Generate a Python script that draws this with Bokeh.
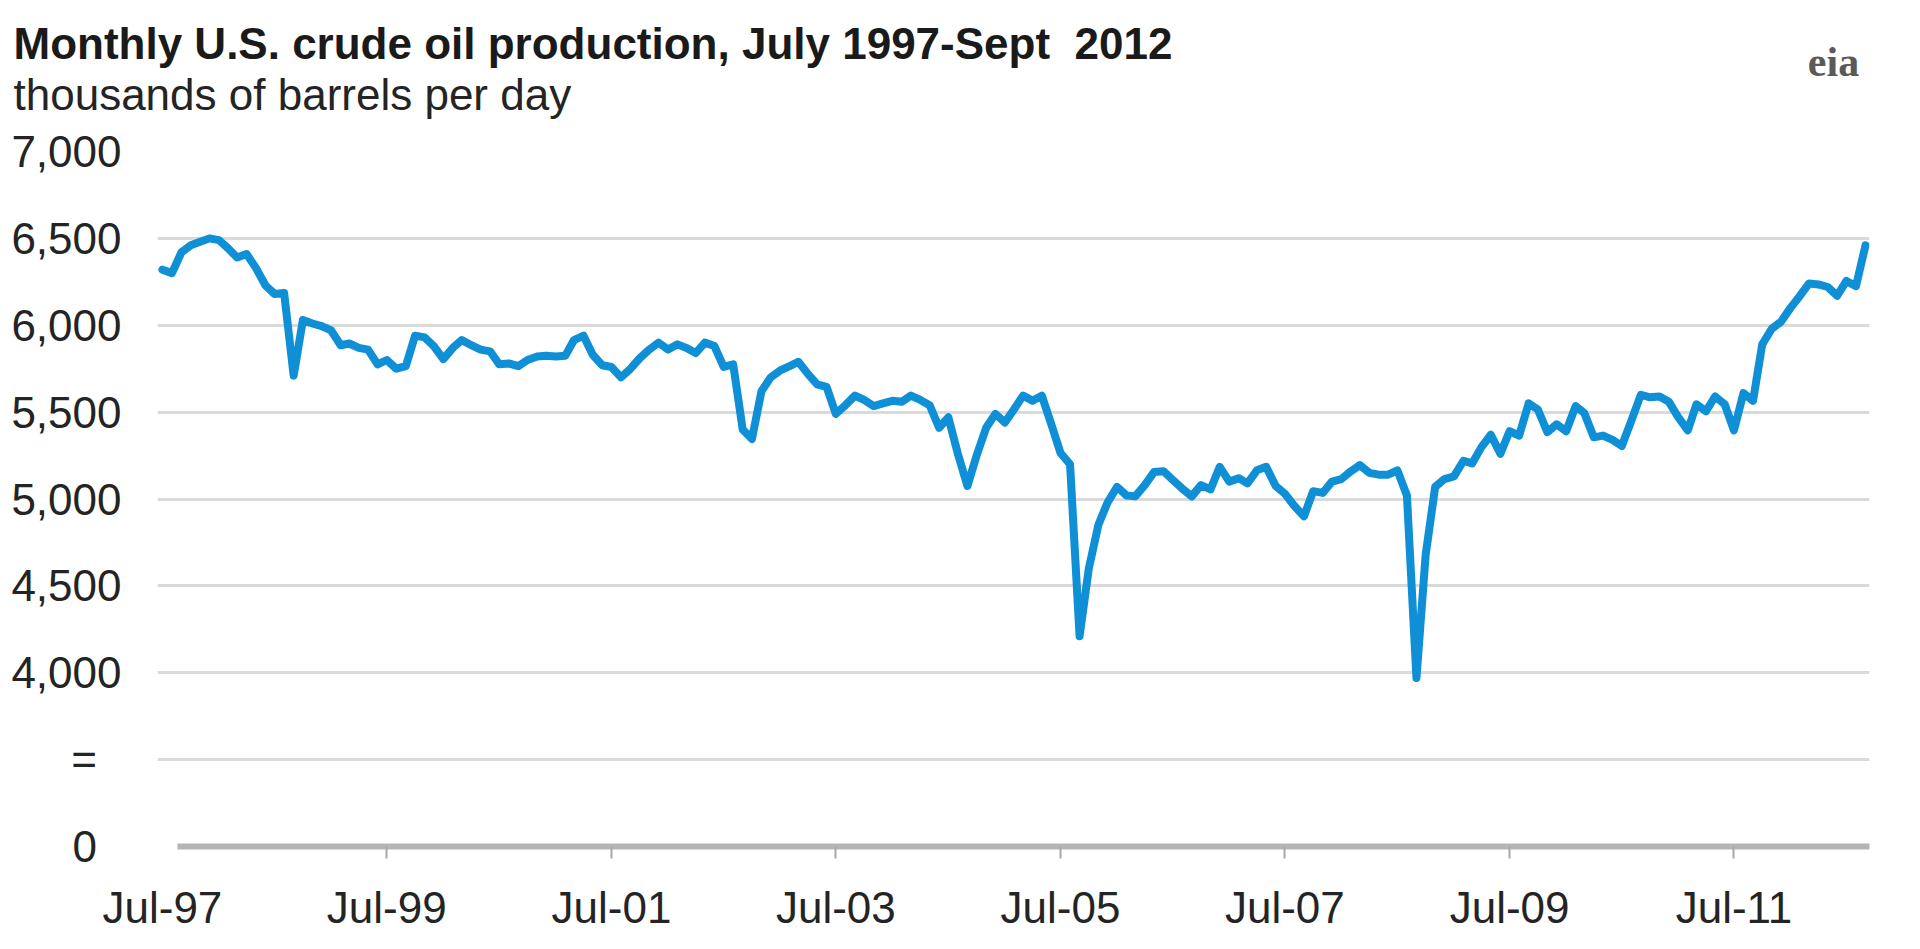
import numpy as np
import pandas as pd
from bokeh.plotting import figure
from bokeh.models import (ColumnDataSource, FixedTicker, LinearAxis, DatetimeAxis,
                          Range1d, Grid, Title, Label)
from bokeh.embed import file_html
from bokeh.resources import INLINE

# ---------------- data ----------------
start_month = "1997-07-01"
production = [
    # Jul97-Dec97
    6320, 6300, 6420, 6460, 6480, 6500,
    # 1998
    6490, 6440, 6390, 6410, 6330, 6230, 6180, 6185, 5710, 6030, 6010, 5995,
    # 1999
    5970, 5885, 5895, 5870, 5860, 5775, 5800, 5750, 5765, 5940, 5930, 5880,
    # 2000
    5805, 5870, 5915, 5885, 5860, 5850, 5775, 5780, 5765, 5800, 5820, 5825,
    # 2001
    5820, 5825, 5915, 5940, 5830, 5770, 5760, 5700, 5750, 5810, 5860, 5900,
    # 2002
    5860, 5890, 5870, 5840, 5900, 5880, 5760, 5775, 5400, 5345, 5620, 5700,
    # 2003
    5740, 5765, 5790, 5720, 5660, 5645, 5490, 5540, 5595, 5570, 5535, 5550,
    # 2004
    5565, 5560, 5595, 5570, 5540, 5410, 5470, 5260, 5075, 5250, 5410, 5490,
    # 2005
    5440, 5520, 5595, 5565, 5595, 5430, 5265, 5200, 4210, 4600, 4850, 4980,
    # 2006
    5070, 5020, 5015, 5080, 5155, 5160, 5110, 5060, 5015, 5080, 5055, 5185,
    # 2007
    5100, 5120, 5090, 5165, 5185, 5075, 5030, 4960, 4900, 5045, 5035, 5100,
    # 2008
    5115, 5160, 5195, 5150, 5140, 5140, 5165, 5020, 3970, 4680, 5070, 5115,
    # 2009
    5130, 5220, 5205, 5300, 5370, 5260, 5390, 5365, 5550, 5515, 5385, 5430,
    # 2010
    5390, 5535, 5495, 5355, 5365, 5340, 5305, 5450, 5600, 5585, 5590, 5560,
    # 2011
    5470, 5395, 5545, 5505, 5590, 5545, 5395, 5610, 5565, 5890, 5980, 6020,
    # 2012 Jan-Sep
    6100, 6170, 6240, 6235, 6220, 6170, 6255, 6225, 6460,
]
months = pd.date_range(start_month, periods=len(production), freq="MS")

x_tick_dates = ["1997-07-01", "1999-07-01", "2001-07-01", "2003-07-01",
                "2005-07-01", "2007-07-01", "2009-07-01", "2011-07-01"]
x_tick_labels = ["Jul-97", "Jul-99", "Jul-01", "Jul-03",
                 "Jul-05", "Jul-07", "Jul-09", "Jul-11"]

y_ticks = [3000, 3500, 4000, 4500, 5000, 5500, 6000, 6500, 7000]
y_tick_labels = ["0\u00a0\u00a0", "=\u00a0\u00a0", "4,000", "4,500", "5,000",
                 "5,500", "6,000", "6,500", "7,000"]

title_text = "Monthly U.S. crude oil production, July 1997-Sept\u00a0 2012"
subtitle_text = "thousands of barrels per day"


def ms(d):
    return pd.Timestamp(d).timestamp() * 1000.0


x_tick_ms = [ms(d) for d in x_tick_dates]

FONT = "Liberation Sans"
LINE_BLUE = "#0f8fd6"
GRID = "#dadada"
TEXT = "#242424"
W, H = 1920, 949
FRAME_L, FRAME_T, FRAME_B = 157, 151, 846

p = figure(width=W, height=H, output_backend="svg", toolbar_location=None,
           x_axis_type=None, y_axis_type=None, title=None,
           x_range=Range1d(ms("1997-06-15"), ms("2012-09-14")),
           y_range=Range1d(3000, 7000),
           min_border_left=FRAME_L, min_border_right=W - 1877,
           min_border_top=FRAME_T, min_border_bottom=H - FRAME_B,
           outline_line_color=None, background_fill_color="white",
           border_fill_color="white")

# header rows, from the plot upward: spacer, subtitle, title
p.add_layout(Title(text=" ", text_font_size="1px", standoff=30), "above")
p.add_layout(Title(text=subtitle_text, align="left", offset=13 - FRAME_L,
                   standoff=0, text_font=FONT, text_font_size="44px",
                   text_font_style="normal", text_color=TEXT), "above")
p.add_layout(Title(text=title_text, align="left", offset=13 - FRAME_L,
                   standoff=0, text_font=FONT, text_font_size="44px",
                   text_font_style="bold", text_color="#1a1a1a"), "above")

# eia logo text (canvas pixel units, kept in the narrow right side panel)
p.add_layout(Label(x=1833, y=61, x_units="canvas", y_units="canvas",
                   text="eia", text_font="Liberation Serif", text_font_size="42px",
                   text_font_style="bold", text_color="#5a5a5a",
                   text_align="center", text_baseline="middle"), "right")

# grid
p.add_layout(Grid(dimension=1, ticker=FixedTicker(ticks=y_ticks[1:]),
                  grid_line_color=GRID, grid_line_width=3))

# y axis
yaxis = LinearAxis(ticker=FixedTicker(ticks=y_ticks),
                   major_label_overrides={t: l for t, l in zip(y_ticks, y_tick_labels)},
                   axis_line_color=None, major_tick_line_color=None,
                   minor_tick_line_color=None, major_label_standoff=30,
                   major_label_text_font=FONT, major_label_text_font_size="44px",
                   major_label_text_color=TEXT)
p.add_layout(yaxis, "left")

# x axis line + ticks
x_line_axis = DatetimeAxis(ticker=FixedTicker(ticks=x_tick_ms[1:]),
                           bounds=(ms("1997-08-19"), ms("2012-09-14")),
                           major_label_overrides={t: "" for t in x_tick_ms[1:]},
                           major_label_text_font_size="1px",
                           major_label_standoff=0,
                           axis_line_color="#b5b5b5", axis_line_width=6,
                           major_tick_line_color="#a8a8a8", major_tick_line_width=2,
                           major_tick_in=0, major_tick_out=12,
                           minor_tick_line_color=None)
p.add_layout(x_line_axis, "below")

# x axis labels
x_label_axis = DatetimeAxis(ticker=FixedTicker(ticks=x_tick_ms),
                            major_label_overrides={t: l for t, l in zip(x_tick_ms, x_tick_labels)},
                            axis_line_color=None, major_tick_line_color=None,
                            minor_tick_line_color=None, major_tick_in=0, major_tick_out=0,
                            major_label_standoff=24,
                            major_label_text_font=FONT, major_label_text_font_size="44px",
                            major_label_text_color=TEXT)
p.add_layout(x_label_axis, "below")

src = ColumnDataSource(dict(month=months, value=production))
p.line(x="month", y="value", source=src, line_color=LINE_BLUE, line_width=8,
       line_join="round", line_cap="round")

open("out.html", "w").write(file_html(p, INLINE))
